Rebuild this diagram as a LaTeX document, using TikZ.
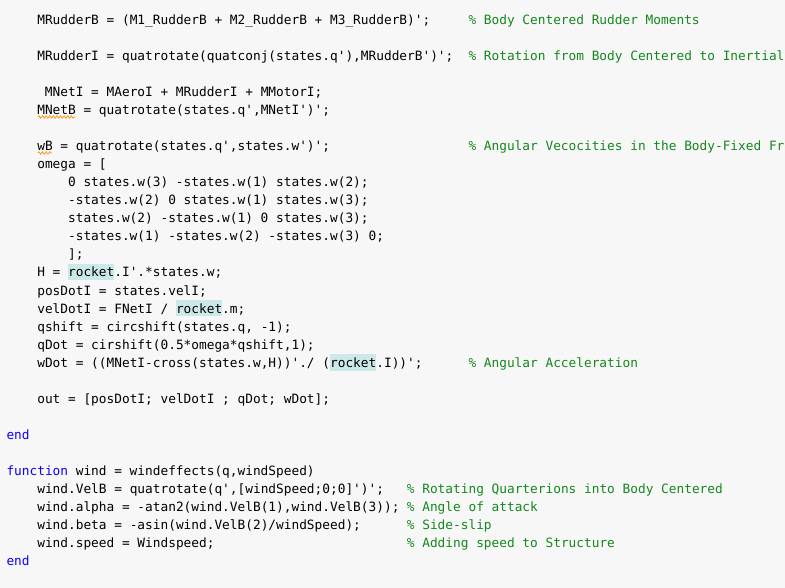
\documentclass[tikz,border=0pt]{standalone}
\usepackage{fontspec}
\newfontfamily\codefont{DejaVu Sans Mono}
\usetikzlibrary{decorations.pathmorphing}
\definecolor{bgc}{RGB}{247,247,247}
\definecolor{cmt}{RGB}{20,135,30}
\definecolor{kwd}{RGB}{14,0,255}
\definecolor{hlc}{RGB}{205,232,232}
\definecolor{sqc}{RGB}{240,165,50}
\tikzset{
  codetext/.style={anchor=base west,inner sep=0pt,outer sep=0pt,
    font=\codefont\fontsize{12.8}{15}\selectfont},
  hl/.style={fill=hlc},
  squig/.style={draw=sqc,line width=0.9pt,
    decorate,decoration={snake,amplitude=1.2pt,segment length=3.6pt}}
}
% #1 colour, #2 line number, #3 column, #4 text
\newcommand\codeline[4][black]{%
  \node[codetext,text=#1] (L#2c#3) at ({6.5+#3*7.7},{25+18*#2}) {#4};}
% highlight: #1 line, #2 first col, #3 number of chars
\newcommand\hlbox[3]{%
  \fill[hl] ({6.5+#2*7.7},{25+18*#1-13}) rectangle ({6.5+(#2+#3)*7.7},{25+18*#1+3.5});}
\newcommand\squigline[3]{%
  \draw[squig] ({6.5+#2*7.7+0.5},{25+18*#1+2}) -- ({6.5+(#2+#3)*7.7-0.5},{25+18*#1+2});}
\begin{document}
\begin{tikzpicture}[x=1pt,y=-1pt]
\useasboundingbox (0,0) rectangle (785,588);
\fill[bgc] (0,0) rectangle (785,588);
\clip (0,0) rectangle (785,588);
% highlights of "rocket"
\hlbox{14}{8}{6}
\hlbox{16}{22}{6}
\hlbox{19}{42}{6}
% code
\codeline{0}{4}{MRudderB = (M1\_RudderB + M2\_RudderB + M3\_RudderB)';}
\codeline[cmt]{0}{60}{\% Body Centered Rudder Moments}
\codeline{2}{4}{MRudderI = quatrotate(quatconj(states.q'),MRudderB')';}
\codeline[cmt]{2}{60}{\% Rotation from Body Centered to Inertial}
\codeline{4}{5}{MNetI = MAeroI + MRudderI + MMotorI;}
\codeline{5}{4}{MNetB = quatrotate(states.q',MNetI')';}
\codeline{7}{4}{wB = quatrotate(states.q',states.w')';}
\codeline[cmt]{7}{60}{\% Angular Vecocities in the Body-Fixed Fr}
\codeline{8}{4}{omega = [}
\codeline{9}{8}{0 states.w(3) -states.w(1) states.w(2);}
\codeline{10}{8}{-states.w(2) 0 states.w(1) states.w(3);}
\codeline{11}{8}{states.w(2) -states.w(1) 0 states.w(3);}
\codeline{12}{8}{-states.w(1) -states.w(2) -states.w(3) 0;}
\codeline{13}{8}{];}
\codeline{14}{4}{H = rocket.I'.*states.w;}
\codeline{15}{4}{posDotI = states.velI;}
\codeline{16}{4}{velDotI = FNetI / rocket.m;}
\codeline{17}{4}{qshift = circshift(states.q, -1);}
\codeline{18}{4}{qDot = cirshift(0.5*omega*qshift,1);}
\codeline{19}{4}{wDot = ((MNetI-cross(states.w,H))'./ (rocket.I))';}
\codeline[cmt]{19}{60}{\% Angular Acceleration}
\codeline{21}{4}{out = [posDotI; velDotI ; qDot; wDot];}
\codeline[kwd]{23}{0}{end}
\codeline[kwd]{25}{0}{function}
\codeline{25}{9}{wind = windeffects(q,windSpeed)}
\codeline{26}{4}{wind.VelB = quatrotate(q',[windSpeed;0;0]')';}
\codeline[cmt]{26}{52}{\% Rotating Quarterions into Body Centered}
\codeline{27}{4}{wind.alpha = -atan2(wind.VelB(1),wind.VelB(3));}
\codeline[cmt]{27}{52}{\% Angle of attack}
\codeline{28}{4}{wind.beta = -asin(wind.VelB(2)/windSpeed);}
\codeline[cmt]{28}{52}{\% Side-slip}
\codeline{29}{4}{wind.speed = Windspeed;}
\codeline[cmt]{29}{52}{\% Adding speed to Structure}
\codeline[kwd]{30}{0}{end}
% wavy underlines
\squigline{5}{4}{5}
\squigline{7}{4}{2}
\end{tikzpicture}
\end{document}
